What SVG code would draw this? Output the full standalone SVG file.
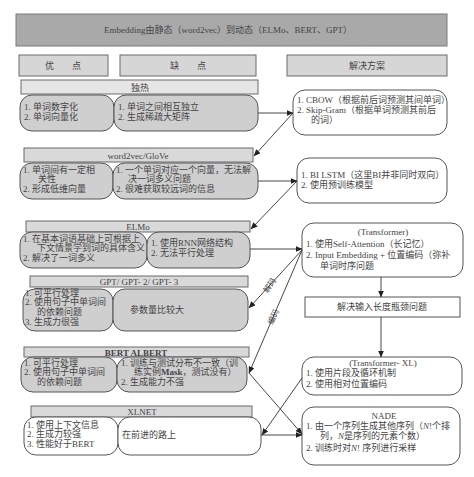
<svg xmlns="http://www.w3.org/2000/svg" width="474" height="477" viewBox="0 0 474 477">
<defs>
<marker id="ah" markerWidth="7" markerHeight="6" refX="6.5" refY="3" orient="auto" markerUnits="userSpaceOnUse">
<path d="M0,0 L7,3 L0,6 Z" fill="#222"/>
</marker>
<style>
text{font-family:"Liberation Serif","Noto Sans CJK SC",serif;font-size:9px;fill:#444}
.c{text-anchor:middle}
.title{fill:#a9a9a9;stroke:#7a7a7a;stroke-width:1}
.hdr{fill:#d6d6d6;stroke:#6a6a6a;stroke-width:1}
.bar{fill:#d9d9d9;stroke:#6a6a6a;stroke-width:1}
.bar1{fill:#e6e6e6;stroke:#6a6a6a;stroke-width:1}
.gb{fill:#cfcfcf;stroke:#555;stroke-width:1}
.wb{fill:#fff;stroke:#555;stroke-width:1}
.sol{fill:#fff;stroke:#555;stroke-width:1}
.ln{stroke:#333;stroke-width:0.9;fill:none}
.lab{font-size:8px}
</style>
</defs>
<rect width="474" height="477" fill="#fff"/>

<g id="title"><rect class="title" x="16" y="14" width="431" height="32"/><text class="c" x="228" y="33">Embedding由静态（word2vec）到动态（ELMo、BERT、GPT）</text></g>
<g id="h-pro"><rect class="hdr" x="19" y="55" width="89" height="21"/><text class="c" x="63" y="69">优　　点</text></g>
<g id="h-con"><rect class="hdr" x="120" y="55" width="136" height="21"/><text class="c" x="188" y="69">缺　　点</text></g>
<g id="h-sol"><rect class="hdr" x="287" y="55" width="160" height="21"/><text class="c" x="367" y="69">解决方案</text></g>

<g id="onehot">
<rect class="bar1" x="21" y="80" width="237" height="14"/><text class="c" x="140" y="90.5">独热</text>
<rect class="gb" x="20" y="95" width="94" height="36" rx="12"/>
<text x="24" y="110">1. 单词数字化</text><text x="24" y="120">2. 单词向量化</text>
<rect class="gb" x="114" y="95" width="144" height="36" rx="12"/>
<text x="118" y="110">1. 单词之间相互独立</text><text x="118" y="120">2. 生成稀疏大矩阵</text>
</g>

<g id="word2vec">
<rect class="bar" x="24" y="148" width="229" height="14"/><text class="c" x="138" y="158.5">word2vec/GloVe</text>
<rect class="gb" x="20" y="163" width="93" height="36" rx="12"/>
<text x="23" y="173">1. 单词间有一定相</text><text x="38" y="182">关性</text><text x="23" y="192">2. 形成低维向量</text>
<rect class="gb" x="113" y="163" width="145" height="36" rx="12"/>
<text x="116" y="173">1. 一个单词对应一个向量，无法解</text><text x="128" y="182">决一词多义问题</text><text x="116" y="192">2. 很难获取较远词的信息</text>
</g>

<g id="elmo">
<rect class="bar" x="26" y="221" width="224" height="11"/><text class="c" x="138" y="230">ELMo</text>
<rect class="gb" x="20" y="232" width="127" height="36" rx="12"/>
<text x="23" y="242">1. 在基本词语基础上可根据上</text><text x="37" y="251">下文情景学到词的具体含义</text><text x="23" y="261">2. 解决了一词多义</text>
<rect class="gb" x="147" y="232" width="103" height="36" rx="12"/>
<text x="151" y="246">1. 使用RNN网络结构</text><text x="151" y="256">2. 无法平行处理</text>
</g>

<g id="gpt">
<rect class="bar" x="30" y="276" width="218" height="11"/><text class="c" x="139" y="285">GPT/ GPT- 2/ GPT- 3</text>
<rect class="gb" x="23" y="289" width="90" height="42" rx="12"/>
<text x="25" y="296">1. 可平行处理</text><text x="25" y="305">2. 使用句子中单词间</text><text x="37" y="315">的依赖问题</text><text x="25" y="325">3. 生成力很强</text>
<rect class="gb" x="113" y="289" width="135" height="42" rx="12"/>
<text x="130" y="313">参数量比较大</text>
</g>

<g id="bert">
<rect class="bar" x="24" y="347" width="225" height="10"/><text class="c" x="136" y="355.5" font-weight="bold">BERT ALBERT</text>
<rect class="gb" x="21" y="357" width="96" height="35" rx="12"/>
<text x="24" y="366">1. 可平行处理</text><text x="24" y="375">2. 使用句子中单词间</text><text x="37" y="385">的依赖问题</text>
<rect class="gb" x="117" y="357" width="130" height="35" rx="12"/>
<text x="121" y="366">1. 训练与测试分布不一致（训</text><text x="134" y="375">练实例<tspan font-weight="bold">Mask</tspan>，测试没有）</text><text x="121" y="385">2. 生成能力不强</text>
</g>

<g id="xlnet">
<rect class="bar" x="31" y="406" width="221" height="11"/><text class="c" x="142" y="415">XLNET</text>
<rect class="wb" x="24" y="417" width="94" height="38" rx="12"/>
<text x="27" y="428">1. 使用上下文信息</text><text x="27" y="437">2. 生成力较强</text><text x="27" y="447">3. 性能好于BERT</text>
<rect class="wb" x="118" y="417" width="143" height="38" rx="12"/>
<text x="122" y="438">在前进的路上</text>
</g>

<g id="s-cbow"><rect class="sol" x="293" y="90" width="154" height="45" rx="12"/>
<text x="297" y="103">1. CBOW（根据前后词预测其间单词）</text><text x="297" y="113">2. Skip-Gram（根据单词预测其前后</text><text x="311" y="123">的词）</text></g>
<g id="s-bilstm"><rect class="sol" x="297" y="158" width="150" height="45" rx="12"/>
<text x="301" y="178">1. BI LSTM（这里BI并非同时双向）</text><text x="301" y="188">2. 使用预训练模型</text></g>
<g id="s-transformer"><rect class="sol" x="302" y="223" width="161" height="54" rx="12"/>
<text class="c" x="383" y="235">(Transformer)</text><text x="306" y="247">1. 使用Self-Attention（长记忆）</text><text x="306" y="258">2. Input Embedding + 位置编码（弥补</text><text x="320" y="269">单词时序问题</text></g>
<g id="s-length"><rect class="sol" x="305" y="297" width="155" height="20"/>
<text class="c" x="382" y="310">解决输入长度瓶颈问题</text></g>
<g id="s-txl"><rect class="sol" x="302" y="357" width="160" height="38" rx="12"/>
<text class="c" x="383" y="366">(Transformer- XL)</text><text x="306" y="376">1. 使用片段及循环机制</text><text x="306" y="387">2. 使用相对位置编码</text></g>
<g id="s-nade"><rect class="sol" x="302" y="407" width="158" height="58" rx="12"/>
<text class="c" x="384" y="419">NADE</text><text x="306" y="429">1. 由一个序列生成其他序列（<tspan font-style="italic">N</tspan>!个排</text><text x="320" y="439">列，<tspan font-style="italic">N</tspan>是序列的元素个数）</text><text x="306" y="451">2. 训练时对<tspan font-style="italic">N</tspan>! 序列进行采样</text></g>

<g id="connectors">
<line class="ln" x1="258" y1="113" x2="293" y2="113" marker-end="url(#ah)"/>
<line class="ln" x1="293" y1="113" x2="254" y2="156" marker-end="url(#ah)"/>
<line class="ln" x1="258" y1="181" x2="297" y2="181" marker-end="url(#ah)"/>
<line class="ln" x1="297" y1="181" x2="251" y2="229" marker-end="url(#ah)"/>
<line class="ln" x1="250" y1="249" x2="302" y2="249" marker-end="url(#ah)"/>
<line class="ln" x1="302" y1="250" x2="249" y2="308" marker-end="url(#ah)"/>
<line class="ln" x1="302" y1="250" x2="249" y2="373" marker-end="url(#ah)"/>
<line class="ln" x1="249" y1="373" x2="302" y2="434" marker-end="url(#ah)"/>
<line class="ln" x1="302" y1="378" x2="262" y2="435" marker-end="url(#ah)"/>
<line class="ln" x1="261" y1="435" x2="302" y2="435" marker-end="url(#ah)"/>
<line class="ln" x1="381" y1="277" x2="381" y2="297" marker-end="url(#ah)"/>
<line class="ln" x1="381" y1="317" x2="381" y2="357" marker-end="url(#ah)"/>
<text class="lab c" transform="translate(272,287) rotate(-55)">解码</text>
<text class="lab c" transform="translate(276,318) rotate(-65)">编码</text>
</g>
</svg>
